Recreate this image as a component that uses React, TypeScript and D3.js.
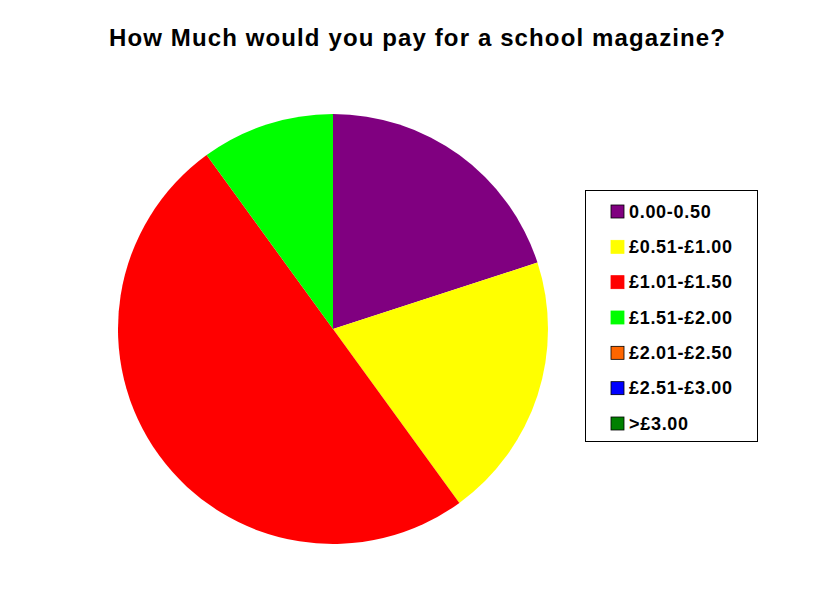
import { useMemo } from "react";
import * as d3 from "d3";

const categories = ["0.00-0.50", "£0.51-£1.00", "£1.01-£1.50", "£1.51-£2.00", "£2.01-£2.50", "£2.51-£3.00", ">£3.00"];
const counts = [2, 2, 5, 1, 0, 0, 0];
const colors = ["#800080", "#FFFF00", "#FF0000", "#00FF00", "#FF6600", "#0000FF", "#008000"];

const title = "How Much would you pay for a school magazine?";

type Slice = { name: string; value: number; color: string };

export default function App() {
    const width = 832;
    const height = 592;
    const cx = 333;
    const cy = 329;
    const radius = 215;

    const slices: Slice[] = categories.map((name, i) => ({ name, value: counts[i], color: colors[i] }));

    const arcs = useMemo(() => {
        const pie = d3.pie<Slice>().value((d) => d.value).sort(null);
        return pie(slices);
    }, []);

    const arcGen = d3.arc<d3.PieArcDatum<Slice>>().innerRadius(0).outerRadius(radius);

    // legend rows
    const legendY = d3.scalePoint<string>().domain(categories).range([211.5, 423.5]);

    return (
        <svg
            width={width}
            height={height}
            style={{ position: "absolute", left: 0, top: 0, background: "#fff" }}
            fontFamily="Arial, 'Liberation Sans', sans-serif"
        >
            <rect width={width} height={height} fill="#fff" />
            <text
                x={109}
                y={46}
                fontSize={24}
                fontWeight="bold"
                fill="#000"
                textLength={616}
                lengthAdjust="spacing"
            >
                {title}
            </text>
            <g transform={`translate(${cx},${cy})`}>
                {arcs.filter((a) => a.value > 0).map((a, i) => (
                    <path key={i} d={arcGen(a) || ""} fill={a.data.color} />
                ))}
            </g>
            <rect x={585.5} y={190.5} width={172} height={251} fill="#fff" stroke="#000" strokeWidth={1} />
            {slices.map((s, i) => {
                const y = legendY(s.name) || 0;
                return (
                    <g key={i}>
                        <rect
                            x={611}
                            y={y - 6.5}
                            width={13}
                            height={13}
                            fill={s.color}
                            stroke={i === 1 || i === 2 || i === 3 ? s.color : "#000"}
                            strokeWidth={0.8}
                        />
                        <text x={629} y={y + 6} fontSize={18} fontWeight="bold" fill="#000" letterSpacing={0.7}>
                            {s.name}
                        </text>
                    </g>
                );
            })}
        </svg>
    );
}
